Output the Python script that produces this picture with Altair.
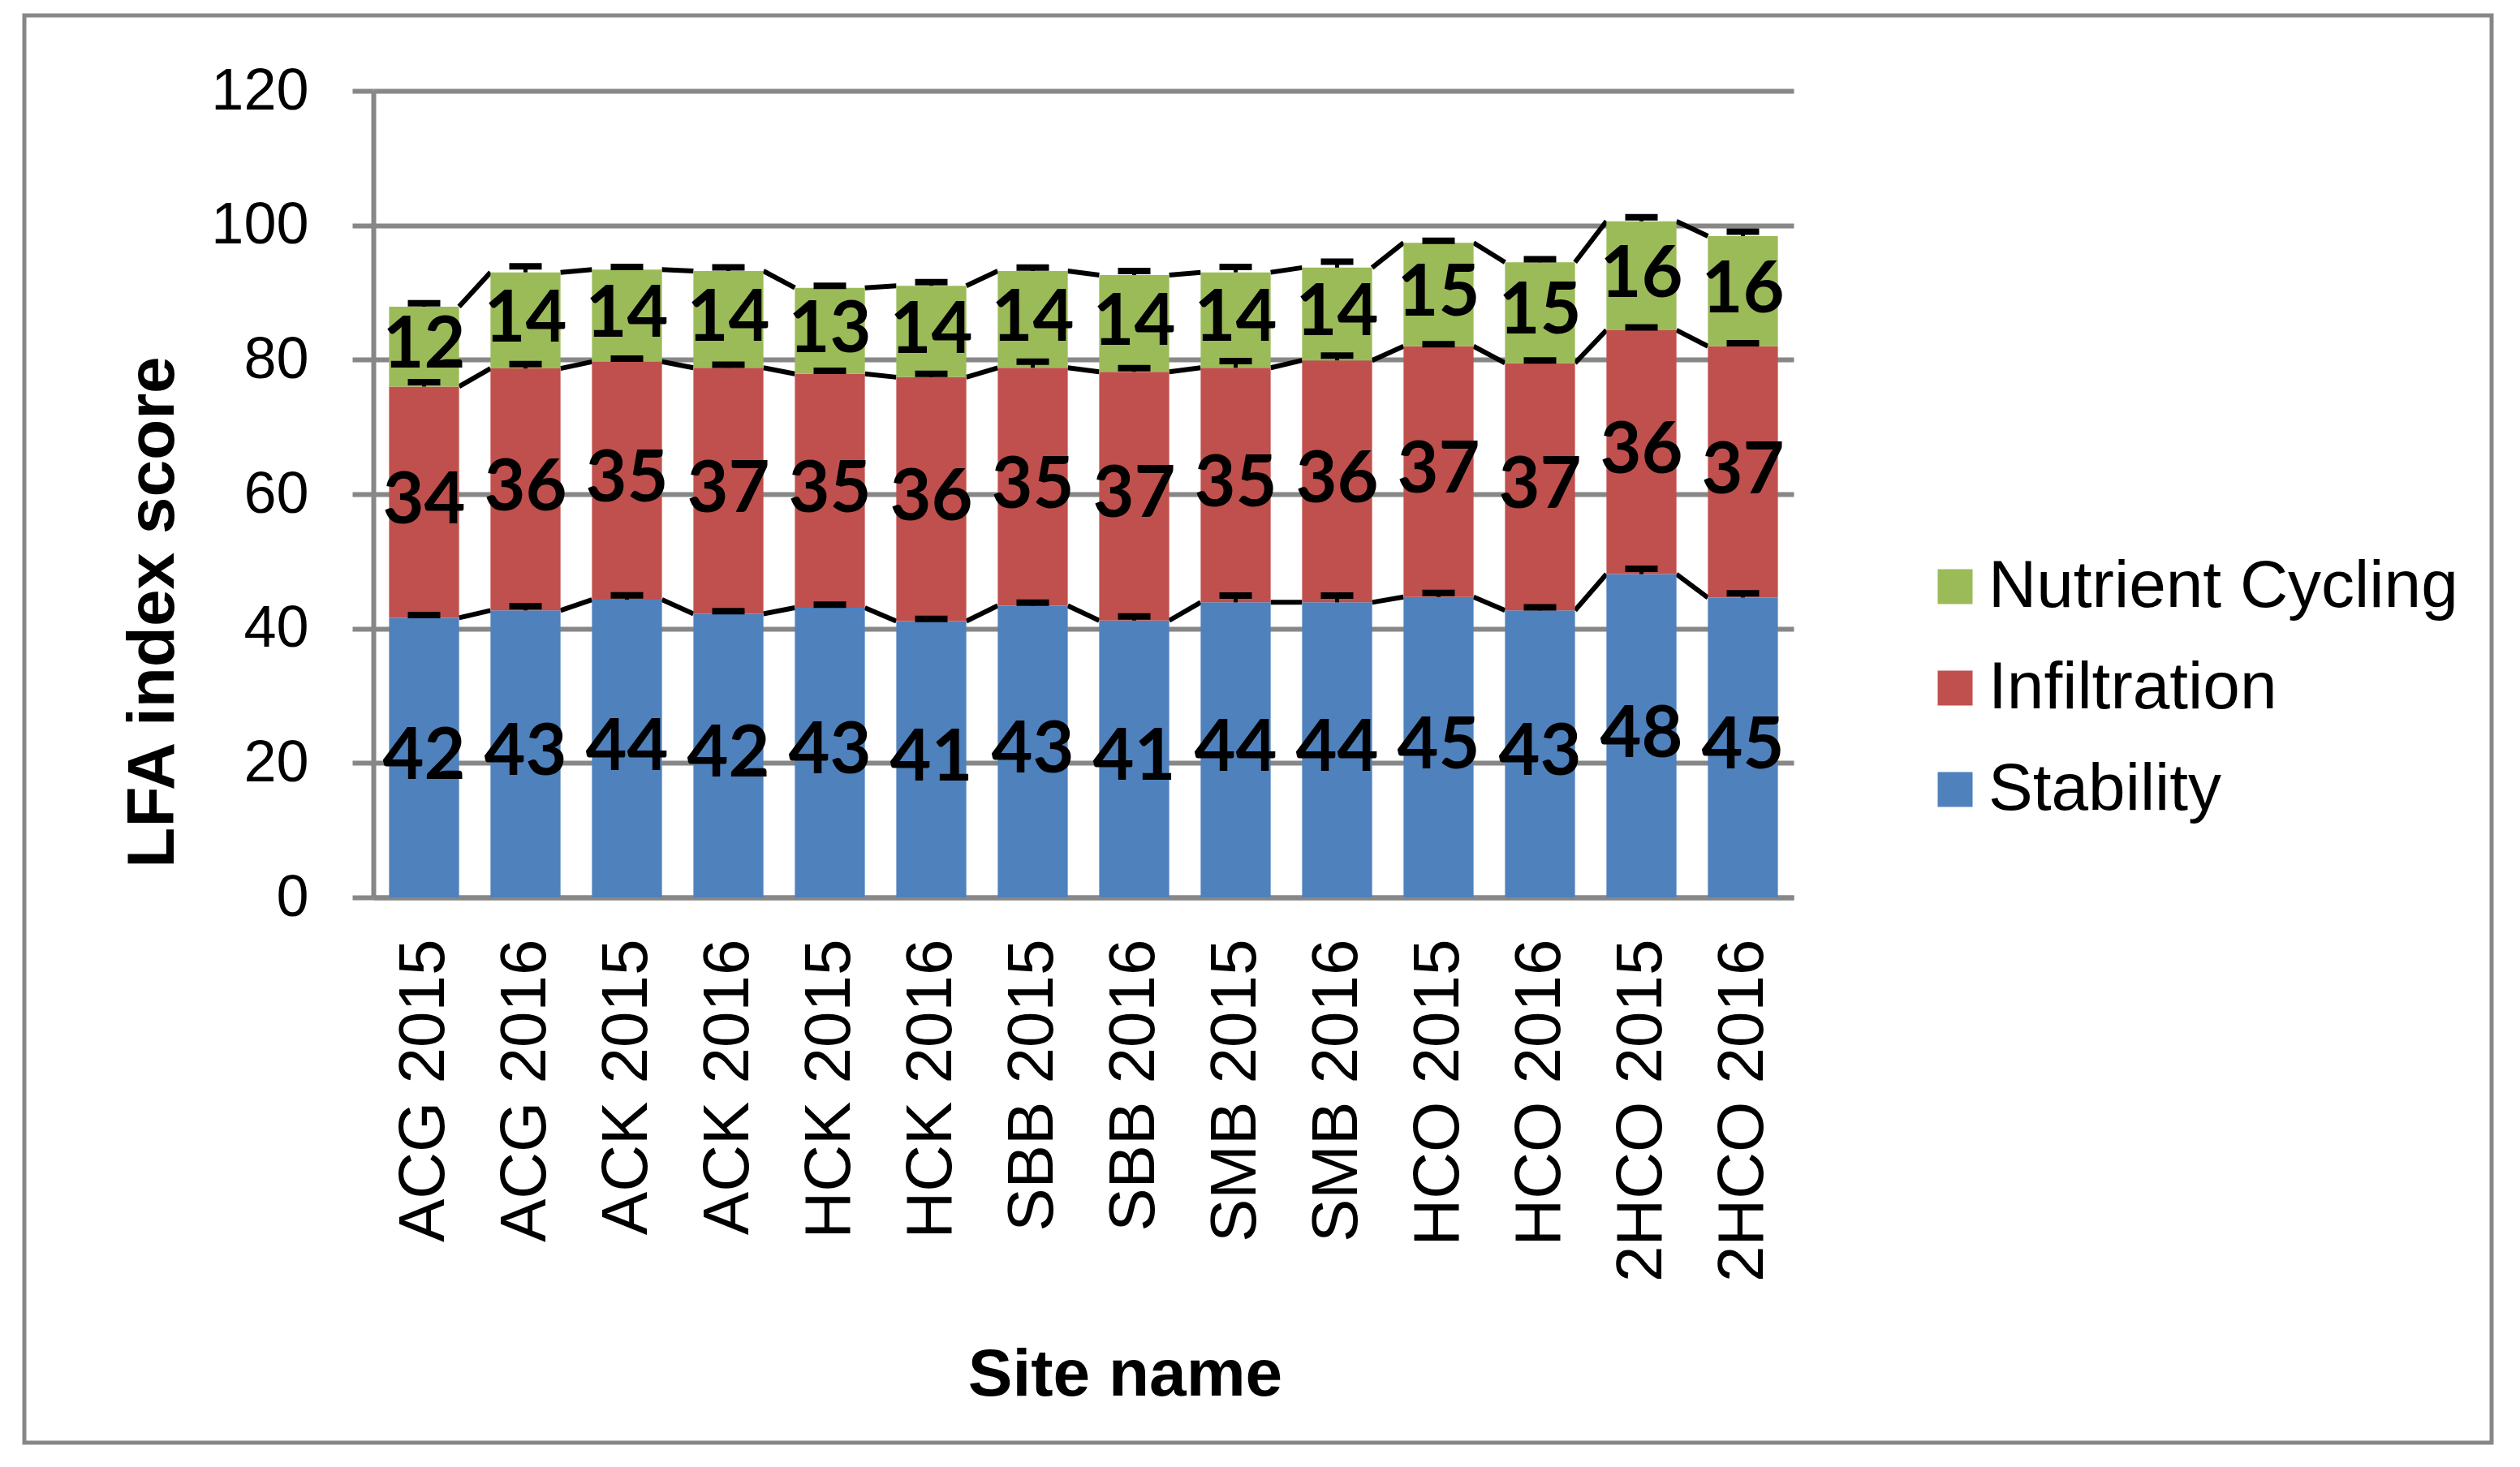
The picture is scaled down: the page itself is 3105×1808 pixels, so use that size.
import altair as alt
import pandas as pd

sites = ["ACG 2015", "ACG 2016", "ACK 2015", "ACK 2016", "HCK 2015", "HCK 2016",
         "SBB 2015", "SBB 2016", "SMB 2015", "SMB 2016", "HCO 2015", "HCO 2016",
         "2HCO 2015", "2HCO 2016"]
components = ["Stability", "Infiltration", "Nutrient Cycling"]
legend_order = ["Nutrient Cycling", "Infiltration", "Stability"]
colors = {"Stability": "#4F81BD", "Infiltration": "#C0504D", "Nutrient Cycling": "#9BBB59"}

stability = [41.6, 42.7, 44.3, 42.2, 43.1, 41.1, 43.4, 41.2, 43.9, 43.9, 44.7, 42.7, 48.1, 44.6]
infiltration = [34.4, 36.0, 35.4, 36.6, 34.8, 36.3, 35.4, 37.0, 34.9, 36.0, 37.3, 36.8, 36.3, 37.4]
nutrient = [11.9, 14.3, 13.7, 14.4, 12.8, 13.6, 14.4, 14.4, 14.2, 13.8, 15.4, 15.0, 16.2, 16.4]

err_stability = [0.4, 0.6, 0.65, 0.4, 0.45, 0.35, 0.45, 0.6, 1.0, 1.0, 0.6, 0.45, 0.8, 0.65]
err_infiltration = [0.65, 0.65, 0.45, 0.45, 0.45, 0.5, 0.9, 0.55, 1.0, 0.7, 0.3, 0.4, 0.4, 0.45]
err_nutrient = [0.5, 0.9, 0.4, 0.55, 0.3, 0.55, 0.5, 0.6, 0.8, 0.9, 0.3, 0.45, 0.6, 0.65]

series = {"Stability": (stability, err_stability),
          "Infiltration": (infiltration, err_infiltration),
          "Nutrient Cycling": (nutrient, err_nutrient)}

rows = []
for i, s in enumerate(sites):
    base = 0.0
    for c in components:
        vals, errs = series[c]
        top = base + vals[i]
        rows.append(dict(site=s, comp=c, value=vals[i], base=base, top=top,
                         mid=(base + top) / 2, etop=top + errs[i]))
        base = top
df = pd.DataFrame(rows)

line_rows = []
for c in components:
    sub = df[df.comp == c].reset_index(drop=True)
    for i in range(len(sub) - 1):
        line_rows.append(dict(comp=c, site=sub.site[i], next_site=sub.site[i + 1],
                              top=sub.top[i], next_top=sub.top[i + 1]))
lines = pd.DataFrame(line_rows)

GRAY = "#878787"
AX_FONT = "Liberation Sans"
LABEL_FONT = "Lato"

xscale = alt.Scale(paddingInner=0.31, paddingOuter=0.155)
yscale = alt.Scale(domain=[0, 120], nice=False)

x_axis = alt.Axis(labelAngle=-90, labelFont=AX_FONT, labelFontSize=80, labelColor="black",
                  labelPadding=51, labelLimit=1000, ticks=False, domain=True, domainColor=GRAY,
                  domainWidth=6, title="Site name", titleFont=AX_FONT, titleFontSize=82,
                  titleFontWeight="bold", titleColor="black", titleX=926, titleY=588,
                  titleAlign="center", titleBaseline="middle", grid=False)
y_axis = alt.Axis(values=[0, 20, 40, 60, 80, 100, 120], labelFont=AX_FONT, labelFontSize=72,
                  labelColor="black", labelPadding=54, tickSize=26, tickWidth=6, tickColor=GRAY,
                  domain=True, domainColor=GRAY, domainWidth=6, grid=True, gridColor=GRAY,
                  gridWidth=6, title="LFA index score", titleFont=AX_FONT, titleFontSize=82,
                  titleFontWeight="bold", titleColor="black", titleX=-272, titleY=642,
                  titleAlign="center", titleBaseline="middle", titleAngle=270)

frame = alt.Chart(pd.DataFrame({"a": [0]})).mark_rect(
    filled=False, stroke=GRAY, strokeWidth=5
).encode(x=alt.value(-430), x2=alt.value(2610), y=alt.value(-93), y2=alt.value(1666))

bars = alt.Chart(df).mark_bar().encode(
    x=alt.X("site:N", sort=sites, scale=xscale, axis=x_axis),
    y=alt.Y("base:Q", scale=yscale, axis=y_axis),
    y2="top:Q",
    color=alt.Color("comp:N", scale=alt.Scale(domain=legend_order,
                                              range=[colors[c] for c in legend_order]),
                    legend=alt.Legend(orient="none", legendX=1908, legendY=570, title=None,
                                      symbolType="square", symbolSize=1849,
                                      symbolStrokeWidth=0, labelFont=AX_FONT,
                                      labelFontSize=82, labelColor="black", labelOffset=0,
                                      rowPadding=43, padding=0, labelLimit=0)),
)

series_lines = alt.Chart(lines).mark_rule(color="black", strokeWidth=6).encode(
    x=alt.X("site:N", sort=sites, bandPosition=1),
    x2=alt.X2("next_site", bandPosition=0),
    y=alt.Y("top:Q", scale=yscale),
    y2="next_top:Q",
)

stems = alt.Chart(df).mark_rule(color="black", strokeWidth=5).encode(
    x=alt.X("site:N", sort=sites),
    y=alt.Y("top:Q", scale=yscale),
    y2="etop:Q",
)

caps = alt.Chart(df).mark_tick(color="black", thickness=8, size=40, orient="horizontal",
                               opacity=1).encode(
    x=alt.X("site:N", sort=sites),
    y=alt.Y("etop:Q", scale=yscale),
)

labels = alt.Chart(df).mark_text(font=LABEL_FONT, fontWeight="bold", fontSize=88,
                                 baseline="middle", align="center", color="black").encode(
    x=alt.X("site:N", sort=sites),
    y=alt.Y("mid:Q", scale=yscale),
    text=alt.Text("value:Q", format=".0f"),
)

chart = alt.layer(frame, series_lines, bars, stems, caps, labels).properties(
    width=1750, height=994,
    autosize=alt.AutoSizeParams(type="none"),
    padding={"left": 452, "top": 104, "right": 887, "bottom": 694},
    background="white",
).configure_view(strokeWidth=0)

chart.save("out.html", embed_options={"renderer": "svg", "actions": False})
